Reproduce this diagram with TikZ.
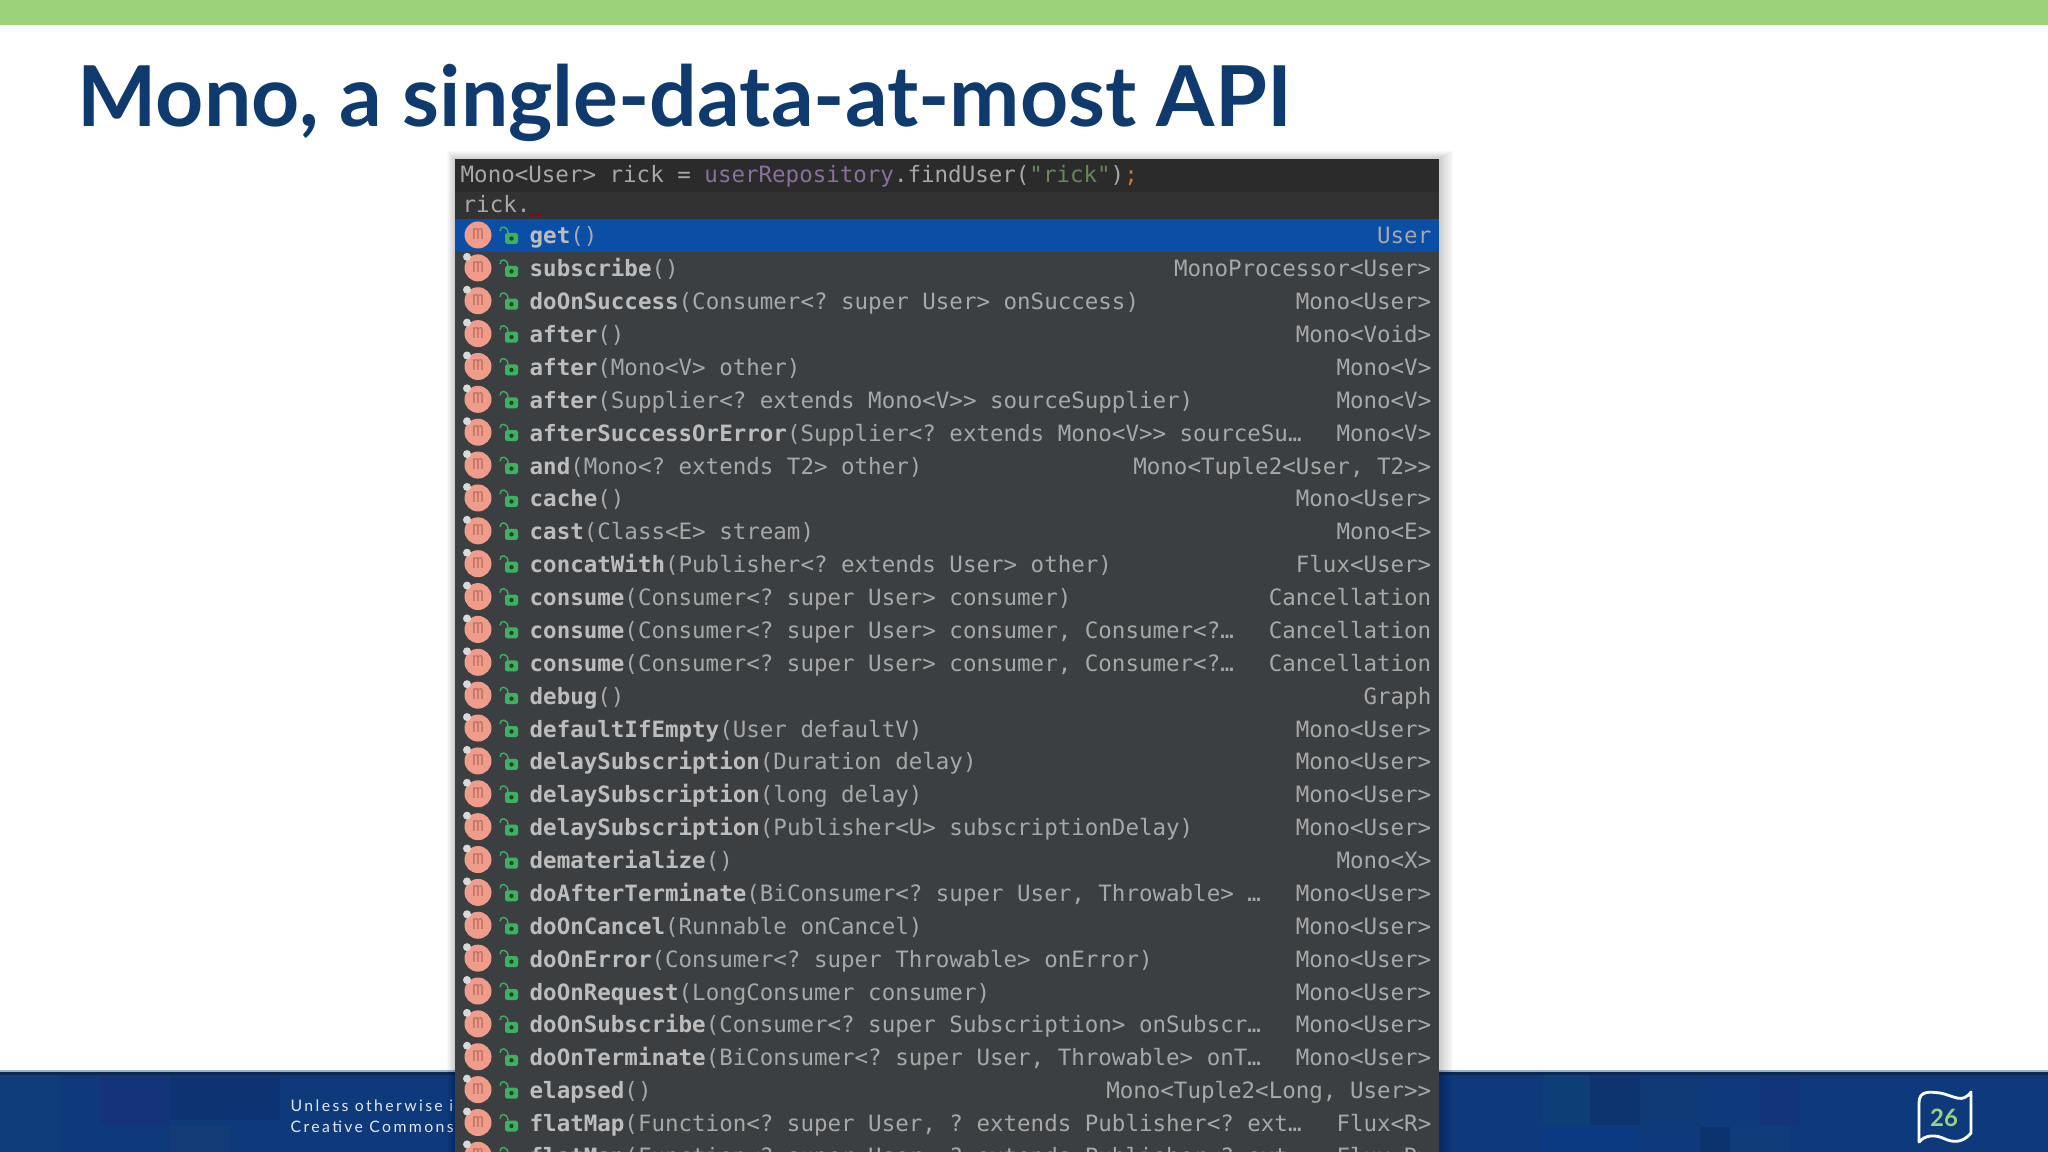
\documentclass[tikz,border=0pt]{standalone}
\usepackage{fontspec}
\setmainfont{Lato}
\setmonofont{DejaVu Sans Mono}
\newfontfamily\footfont[LetterSpace=15]{Lato}
\usetikzlibrary{calc}
\definecolor{bandgreen}{HTML}{9BD27A}
\definecolor{titleblue}{HTML}{0F3A6E}
\definecolor{footblue}{HTML}{0E3A7C}
\definecolor{headdark}{HTML}{2B2B2B}
\definecolor{headmid}{HTML}{323233}
\definecolor{listgrey}{HTML}{3C3F41}
\definecolor{rowblue}{HTML}{0A4EA6}
\definecolor{namegrey}{HTML}{BDBDBD}
\definecolor{argsgrey}{HTML}{A6A8A9}
\definecolor{badgered}{HTML}{F09C8A}
\definecolor{badgem}{HTML}{BE7566}
\definecolor{lockgreen}{HTML}{3FB062}
\tikzset{
	rowtext/.style={anchor=base west, inner sep=0pt, font=\ttfamily\fontsize{6.4}{7}\selectfont, text=argsgrey},
	rowret/.style={rowtext, anchor=base east},
	footline/.style={anchor=base west, inner sep=0pt, text=white!88!footblue, font=\footfont\fontsize{4.5}{6}\selectfont},
}
\begin{document}
\begin{tikzpicture}[x=1cm,y=-1cm]
	\useasboundingbox (0,0) rectangle (20.48,11.52);
	\fill[white] (0,0) rectangle (20.48,11.52);
	\fill[bandgreen] (0,0) rectangle (20.48,0.25);
	\node[anchor=base west, inner sep=0pt, text=titleblue, font=\bfseries\fontsize{23.9}{28}\selectfont] (title) at (0.77,1.27) {Mono, a single-data-at-most API};

	% footer
	\fill[footblue] (0,10.72) rectangle (20.48,11.52);
	\foreach \xa/\xb/\ya/\yb/\patch in {
		1.00/1.70/10.75/11.25/1A2F75, 1.70/2.80/10.75/11.20/0F2F6B, 1.70/2.30/11.26/11.52/1A3F73,
		0/0.60/10.75/11.52/10407C, 15.43/15.90/10.75/11.25/0F4272, 15.90/16.40/10.75/11.25/0F3066,
		16.40/17.00/10.75/11.25/103A72, 17.00/17.30/11.27/11.52/0D2F66, 17.60/18.00/10.75/11.25/1A3078,
		15.40/16.40/11.27/11.52/0A3A88, 17.30/17.90/11.27/11.52/12407A}
	{
		\definecolor{patchcol}{HTML}{\patch}
		\fill[patchcol, fill opacity=0.55] (\xa,\ya) rectangle (\xb,\yb);
	}
	\fill[footblue!40!white] (0,10.70) rectangle (20.48,10.72);
	\fill[footblue!70!black] (0,10.72) rectangle (20.48,10.75);
	\node[footline] (foota) at (2.90,11.12) {Unless otherwise i};
	\node[footline] (footb) at (2.90,11.32) {Creative Commons};
	\draw[white, line width=0.8pt, line join=round] (19.19,11.03) .. controls (19.19,10.90) and (19.30,10.92) .. (19.40,10.93) .. controls (19.55,10.96) and (19.62,11.04) .. (19.71,10.92) -- (19.71,11.33) .. controls (19.62,11.44) and (19.52,11.42) .. (19.45,11.39) .. controls (19.35,11.34) and (19.25,11.35) .. (19.19,11.42) -- cycle;
	\node[inner sep=0pt, text=bandgreen, font=\bfseries\fontsize{6.8}{8}\selectfont] (page) at (19.44,11.18) {26};

	% window with its shadow
	\foreach \s in {1,...,8}
		\fill[black, opacity=0.022] ($(4.55,1.59)+(-0.01*\s,-0.01*\s)$) rectangle ($(14.39,11.6)+(0.018*\s,0)$);
	\fill[listgrey] (4.55,1.59) rectangle (14.39,11.6);
	\fill[headmid] (4.55,1.59) rectangle (14.39,2.19);
	\fill[headdark] (4.55,1.59) rectangle (14.39,1.92);
	\fill[rowblue] (4.55,2.19) rectangle (14.39,2.52);

	\node[rowtext, text=argsgrey] (line1) at (4.60,1.83) {Mono<User> rick = \textcolor[HTML]{8C6FA0}{userRepository}.findUser(\textcolor[HTML]{6A8759}{"rick"})\textcolor[HTML]{CC7832}{;}};
	\node[rowtext] (line2) at (4.62,2.13) {rick.};
	\draw[red!60!black, line width=0.4pt] (5.30,2.14) -- (5.35,2.16) -- (5.41,2.14);

	\foreach \mname/\margs/\mret [count=\i from 0] in {
		get/()/User,
		subscribe/()/MonoProcessor<User>,
		doOnSuccess/(Consumer<? super User> onSuccess)/Mono<User>,
		after/()/Mono<Void>,
		after/(Mono<V> other)/Mono<V>,
		after/(Supplier<? extends Mono<V>> sourceSupplier)/Mono<V>,
		afterSuccessOrError/(Supplier<? extends Mono<V>> sourceSu…/Mono<V>,
		and/(Mono<? extends T2> other)/{Mono<Tuple2<User, T2>>},
		cache/()/Mono<User>,
		cast/(Class<E> stream)/Mono<E>,
		concatWith/(Publisher<? extends User> other)/Flux<User>,
		consume/(Consumer<? super User> consumer)/Cancellation,
		consume/{(Consumer<? super User> consumer, Consumer<?…}/Cancellation,
		consume/{(Consumer<? super User> consumer, Consumer<?…}/Cancellation,
		debug/()/Graph,
		defaultIfEmpty/(User defaultV)/Mono<User>,
		delaySubscription/(Duration delay)/Mono<User>,
		delaySubscription/(long delay)/Mono<User>,
		delaySubscription/(Publisher<U> subscriptionDelay)/Mono<User>,
		dematerialize/()/Mono<X>,
		doAfterTerminate/{(BiConsumer<? super User, Throwable> …}/Mono<User>,
		doOnCancel/(Runnable onCancel)/Mono<User>,
		doOnError/(Consumer<? super Throwable> onError)/Mono<User>,
		doOnRequest/(LongConsumer consumer)/Mono<User>,
		doOnSubscribe/(Consumer<? super Subscription> onSubscr…/Mono<User>,
		doOnTerminate/{(BiConsumer<? super User, Throwable> onT…}/Mono<User>,
		elapsed/()/{Mono<Tuple2<Long, User>>},
		flatMap/{(Function<? super User, ? extends Publisher<? ext…}/Flux<R>,
		flatMap/{(Function<? super User, ? extends Publisher<? ext…}/Flux<R>}
	{
		\pgfmathsetmacro\rowy{2.36+0.3287*\i}
		\coordinate (r\i) at (0,\rowy);
		% badge and lock
		\fill[badgered] ($(r\i)+(4.78,-0.01)$) circle (0.135);
		\node[inner sep=0pt, text=badgem, font=\ttfamily\fontsize{5.6}{6}\selectfont] (m\i) at ($(r\i)+(4.78,-0.02)$) {m};
		\ifnum\i>0 \fill[white!85!black] ($(r\i)+(4.67,-0.12)$) circle (0.04); \fi
		\fill[lockgreen, rounded corners=0.5pt] ($(r\i)+(5.05,-0.03)$) rectangle ($(r\i)+(5.18,0.08)$);
		\fill[black!60!lockgreen] ($(r\i)+(5.115,0.025)$) circle (0.022);
		\draw[lockgreen, line width=0.4pt] ($(r\i)+(5.08,-0.03)$) .. controls ($(r\i)+(5.08,-0.10)$) and ($(r\i)+(5.00,-0.11)$) .. ($(r\i)+(5.00,-0.05)$);
		% texts
		\node[rowtext] (n\i) at ($(r\i)+(5.29,0.08)$) {\textbf{\textcolor{namegrey}{\mname}}\margs};
		\node[rowret] (t\i) at ($(r\i)+(14.32,0.08)$) {\mret};
	}
\end{tikzpicture}
\end{document}
